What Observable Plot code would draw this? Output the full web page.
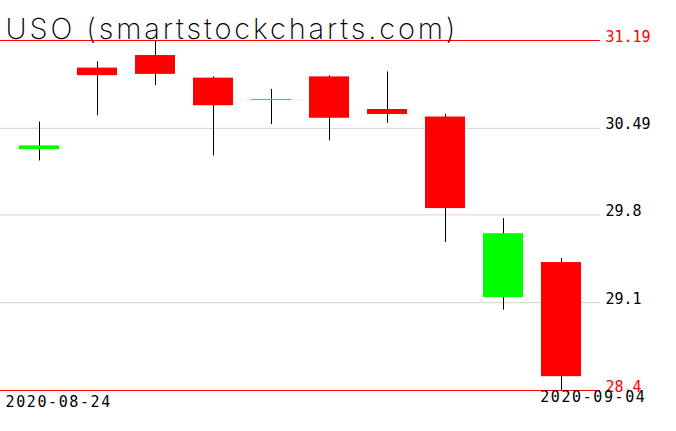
<!DOCTYPE html>
<html>
<head>
<meta charset="utf-8">
<script src="https://cdn.jsdelivr.net/npm/d3@7"></script>
<script src="https://cdn.jsdelivr.net/npm/@observablehq/plot@0.6"></script>
<style>
  html, body { margin: 0; padding: 0; background: #fff; }
  #chart svg { display: block; }
</style>
</head>
<body>
<div id="chart"></div>
<script>
const title = "USO (smartstockcharts.com)";
const dates = ["2020-08-24","2020-08-25","2020-08-26","2020-08-27","2020-08-28","2020-08-31","2020-09-01","2020-09-02","2020-09-03","2020-09-04"];
const opens  = [30.32, 30.97, 31.07, 30.89, 30.72, 30.90, 30.64, 30.58, 29.14, 29.42];
const closes = [30.35, 30.91, 30.92, 30.67, 30.72, 30.57, 30.60, 29.85, 29.65, 28.51];
const highs  = [30.54, 31.02, 31.19, 30.90, 30.80, 30.91, 30.94, 30.60, 29.77, 29.45];
const lows   = [30.23, 30.59, 30.83, 30.27, 30.52, 30.39, 30.53, 29.58, 29.04, 28.40];
const tickValues = [31.19, 30.49, 29.8, 29.1, 28.4];
const tickLabels = ["31.19", "30.49", "29.8", "29.1", "28.4"];

const rows = dates.map((d, i) => ({date: d, open: opens[i], close: closes[i], high: highs[i], low: lows[i]}));
const yMin = d3.min(lows), yMax = d3.max(highs);
const ticks = tickValues.map((v, i) => ({v, label: tickLabels[i], edge: v === yMin || v === yMax}));

const RED = "#ff0000", GREEN = "#00ff00", GRID = "#d3d3d3";

const chart = Plot.plot({
  width: 676,
  height: 431,
  marginTop: 40,
  marginBottom: 41,
  marginLeft: 0,
  marginRight: 76,
  style: {background: "#fff", overflow: "visible"},
  x: {type: "band", domain: dates, range: [1, 599], padding: 0.31, axis: null},
  y: {domain: [yMin, yMax], axis: null},
  marks: [
    Plot.ruleY(ticks.filter(t => !t.edge), {y: "v", stroke: GRID, strokeWidth: 1}),
    Plot.ruleY(ticks.filter(t => t.edge), {y: "v", stroke: RED, strokeWidth: 1}),
    Plot.ruleX(rows, {x: "date", y1: "low", y2: "high", stroke: "#000", strokeWidth: 1}),
    Plot.barY(rows.filter(d => d.open !== d.close), {
      x: "date", y1: "open", y2: "close",
      fill: d => d.close > d.open ? GREEN : RED
    }),
    Plot.tickY(rows.filter(d => d.open === d.close), {x: "date", y: "close", stroke: GREEN, strokeWidth: 1}),
    Plot.text(ticks, {
      y: "v", text: "label", frameAnchor: "right", textAnchor: "start", lineAnchor: "bottom",
      dx: 5, dy: 1, fill: d => d.edge ? RED : "#000",
      fontFamily: "DejaVu Sans Mono", fontSize: 15
    }),
    Plot.text([dates[0]], {
      text: d => d, frameAnchor: "bottom-left", textAnchor: "start", lineAnchor: "bottom",
      dx: 5, dy: 16, fill: "#000", fontFamily: "DejaVu Sans Mono", fontSize: 15, className: "datelab"
    }),
    Plot.text([dates[dates.length - 1]], {
      text: d => d, frameAnchor: "bottom-right", textAnchor: "end", lineAnchor: "bottom",
      dx: 46, dy: 11, fill: "#000", fontFamily: "DejaVu Sans Mono", fontSize: 15, className: "datelab"
    }),
    Plot.text([title], {
      text: d => d, frameAnchor: "top-left", textAnchor: "start", lineAnchor: "bottom",
      dx: 5, dy: -2, fill: "#000", fontFamily: "Inter", fontWeight: 200, fontSize: 29, className: "titlelab"
    })
  ]
});

d3.select(chart).selectAll(".datelab text").attr("letter-spacing", "1.6px");
d3.select(chart).selectAll(".titlelab text").attr("textLength", 450).attr("lengthAdjust", "spacing");
document.getElementById("chart").appendChild(chart);
</script>
</body>
</html>
